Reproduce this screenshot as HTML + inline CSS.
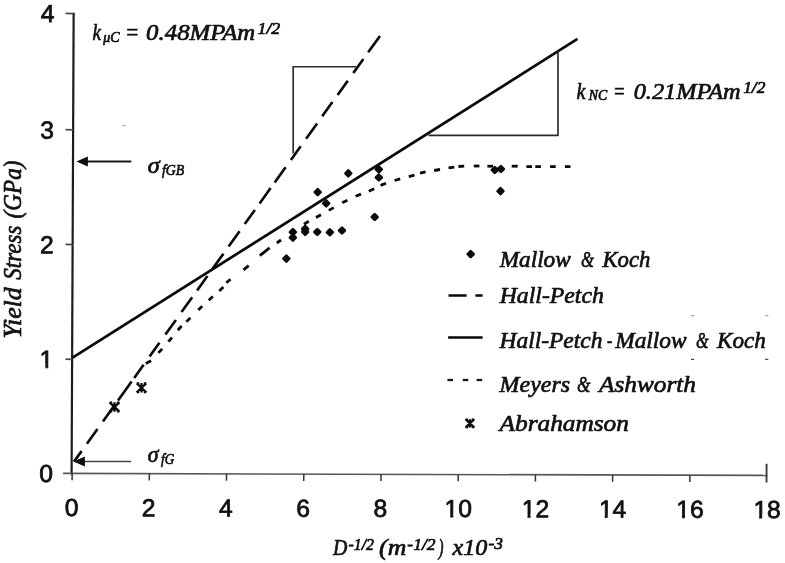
<!DOCTYPE html>
<html lang="en"><head><meta charset="utf-8"><title>Yield stress vs grain size</title>
<style>
html,body{margin:0;padding:0;background:#fff;}
body{width:785px;height:563px;overflow:hidden;}
svg{display:block;}
.sans{font-family:"Liberation Sans",Arial,sans-serif;font-size:24.6px;fill:#111;stroke:#111;stroke-width:.8px;stroke-linejoin:round;}
.ser{font-family:"Liberation Serif","Times New Roman",serif;font-style:italic;fill:#111;stroke:#111;stroke-width:.7px;stroke-linejoin:round;}
</style></head><body>
<svg width="785" height="563" viewBox="0 0 785 563">
<rect width="785" height="563" fill="#fff"/>

<g fill="none">
<line x1="73.65" y1="12.8" x2="71.6" y2="474.6" stroke="#1c1c1c" stroke-width="2.2"/>
<line x1="63" y1="473.40" x2="767.2" y2="475.41" stroke="#585858" stroke-width="1.6"/>
<line x1="65.5" y1="13.35" x2="73.65" y2="13.55" stroke-width="1.7" stroke="#4a4a4a"/>
<line x1="65.5" y1="129.65" x2="73.14" y2="129.85" stroke-width="1.7" stroke="#4a4a4a"/>
<line x1="65.5" y1="244.45" x2="72.64" y2="244.65" stroke-width="1.7" stroke="#4a4a4a"/>
<line x1="65.5" y1="359.15" x2="72.15" y2="359.35" stroke-width="1.7" stroke="#4a4a4a"/>
<line x1="72.1" y1="473.43" x2="72.1" y2="480.23" stroke-width="1.5" stroke="#333"/>
<line x1="149.3" y1="473.65" x2="149.3" y2="480.45" stroke-width="1.5" stroke="#333"/>
<line x1="226.5" y1="473.87" x2="226.5" y2="480.67" stroke-width="1.5" stroke="#333"/>
<line x1="303.8" y1="474.09" x2="303.7" y2="480.89" stroke-width="1.5" stroke="#333"/>
<line x1="381.0" y1="474.31" x2="381.0" y2="481.11" stroke-width="1.5" stroke="#333"/>
<line x1="458.2" y1="474.53" x2="458.2" y2="481.33" stroke-width="1.5" stroke="#333"/>
<line x1="535.4" y1="474.75" x2="535.4" y2="481.55" stroke-width="1.5" stroke="#333"/>
<line x1="612.6" y1="474.97" x2="612.6" y2="481.77" stroke-width="1.5" stroke="#333"/>
<line x1="689.9" y1="475.19" x2="689.8" y2="481.99" stroke-width="1.5" stroke="#333"/>
<line x1="766.6" y1="463.8" x2="766.5" y2="482.4" stroke-width="1.9" stroke="#3a3a3a"/>
</g>
<g class="sans" text-anchor="middle">
<text x="47.60" y="22.1" transform="rotate(0.2 47.60 22.1)">4</text>
<text x="47.19" y="138.5" transform="rotate(0.2 47.19 138.5)">3</text>
<text x="46.79" y="253.2" transform="rotate(0.2 46.79 253.2)">2</text>
<text x="46.39" y="367.9" transform="rotate(0.2 46.39 367.9)">1</text>
<text x="45.99" y="482.0" transform="rotate(0.2 45.99 482.0)">0</text>
<text x="71.5" y="516.00" transform="rotate(0.2 71.5 516.00)">0</text>
<text x="148.7" y="516.22" transform="rotate(0.2 148.7 516.22)">2</text>
<text x="225.9" y="516.45" transform="rotate(0.2 225.9 516.45)">4</text>
<text x="303.2" y="516.67" transform="rotate(0.2 303.2 516.67)">6</text>
<text x="380.4" y="516.89" transform="rotate(0.2 380.4 516.89)">8</text>
<text x="458.2" y="517.11" transform="rotate(0.2 458.2 517.11)">10</text>
<text x="535.4" y="517.33" transform="rotate(0.2 535.4 517.33)">12</text>
<text x="612.6" y="517.56" transform="rotate(0.2 612.6 517.56)">14</text>
<text x="689.9" y="517.78" transform="rotate(0.2 689.9 517.78)">16</text>
<text x="767.1" y="518.00" transform="rotate(0.2 767.1 518.00)">18</text>
</g>
<rect x="39.92" y="364.60" width="5.35" height="4.84" fill="#fff"/>
<rect x="48.36" y="364.60" width="4.81" height="4.84" fill="#fff"/>
<rect x="444.89" y="513.77" width="5.35" height="4.84" fill="#fff"/>
<rect x="453.34" y="513.77" width="4.81" height="4.84" fill="#fff"/>
<rect x="522.11" y="513.99" width="5.35" height="4.84" fill="#fff"/>
<rect x="530.56" y="513.99" width="4.81" height="4.84" fill="#fff"/>
<rect x="599.33" y="514.21" width="5.35" height="4.84" fill="#fff"/>
<rect x="607.78" y="514.21" width="4.81" height="4.84" fill="#fff"/>
<rect x="676.55" y="514.43" width="5.35" height="4.84" fill="#fff"/>
<rect x="685.00" y="514.43" width="4.81" height="4.84" fill="#fff"/>
<rect x="753.77" y="514.66" width="5.35" height="4.84" fill="#fff"/>
<rect x="762.22" y="514.66" width="4.81" height="4.84" fill="#fff"/>
<line x1="72.6" y1="357.6" x2="577.5" y2="38.9" stroke="#0a0a0a" stroke-width="2.75" stroke-linecap="butt"/>
<path d="M74.0,461.6 L81.6,451.1 M86.9,443.7 L97.5,429.0 M102.9,421.4 L114.4,405.4 M118.0,400.4 L131.6,381.5 M134.2,377.9 L143.6,364.8 M149.6,356.5 L159.4,342.8 M165.4,334.5 L175.9,319.9 M181.5,312.1 L192.2,297.2 M197.1,290.4 L207.4,276.0 M212.4,269.1 L223.4,253.8 M228.6,246.5 L239.6,231.2 M244.7,224.1 L254.9,209.9 M259.6,203.4 L270.6,188.1 M274.7,182.4 L285.6,167.2 M290.9,159.9 L300.7,146.2 M306.1,138.7 L317.1,123.4 M322.2,116.3 L332.4,102.1 M337.6,94.9 L347.8,80.7 M353.3,73.0 L363.4,59.0 M368.2,52.3 L380.0,35.9" fill="none" stroke="#0a0a0a" stroke-width="2.65"/>
<g stroke="#0a0a0a" stroke-width="2.8" fill="none">
<path d="M145.7,363.6 L151.1,360.8"/>
<path d="M158.4,352.9 L162.2,348.9"/>
<path d="M168.4,341.7 L172.0,337.5"/>
<path d="M177.8,330.2 L181.6,326.0"/>
<path d="M186.4,321.8 L190.4,317.8"/>
<path d="M198.2,310.1 L202.2,306.3"/>
<path d="M208.7,300.3 L212.9,296.5"/>
<path d="M219.3,290.9 L223.3,286.9"/>
<path d="M226.3,282.8 L230.5,279.2"/>
<path d="M243.5,269.9 L248.7,265.7"/>
<path d="M259.8,255.7 L269.6,247.9"/>
<path d="M276.8,243.0 L281.0,240.0"/>
<path d="M291.6,232.8 L295.4,230.2"/>
<path d="M304.0,224.3 L308.8,221.3"/>
<path d="M316.0,217.5 L321.0,214.7"/>
<path d="M328.8,210.4 L333.8,207.6"/>
<path d="M342.2,202.8 L347.4,200.2"/>
<path d="M355.6,196.3 L361.0,194.1"/>
<path d="M368.8,191.2 L374.2,188.8"/>
<path d="M380.6,185.4 L386.0,183.2"/>
<path d="M394.6,180.5 L400.2,178.9"/>
<path d="M408.8,176.7 L414.4,175.1"/>
<path d="M420.0,173.2 L425.6,171.8"/>
<path d="M434.2,170.5 L440.0,169.5"/>
<path d="M448.5,167.9 L454.3,167.1"/>
<path d="M458.4,166.5 L464.2,166.1"/>
<path d="M473.8,166.0 L479.4,166.0"/>
<path d="M487.4,166.2 L493.0,166.2"/>
<path d="M511.7,166.2 L517.7,166.2"/>
<path d="M526.4,166.6 L532.0,166.6"/>
<path d="M535.3,166.6 L540.9,166.6"/>
<path d="M550.1,166.6 L555.7,166.6"/>
<path d="M564.9,166.6 L570.5,166.6"/>
</g>
<path d="M357,66.7 H293.2 V153.2" fill="none" stroke="#2a2a2a" stroke-width="1.65"/>
<path d="M428.4,135.4 H558 V50.6" fill="none" stroke="#2a2a2a" stroke-width="1.65"/>
<g fill="#0a0a0a" stroke="#0a0a0a" stroke-width="2.6" stroke-linejoin="round">
<path d="M283.4,258.6 L286.4,255.7 L289.3,258.6 L286.4,261.6Z"/>
<path d="M289.9,232.1 L292.9,229.2 L295.8,232.1 L292.9,235.0Z"/>
<path d="M289.9,237.6 L292.9,234.7 L295.8,237.6 L292.9,240.5Z"/>
<path d="M302.2,228.8 L305.2,225.9 L308.1,228.8 L305.2,231.8Z"/>
<path d="M302.2,231.8 L305.2,228.9 L308.1,231.8 L305.2,234.8Z"/>
<path d="M314.4,232 L317.3,229.1 L320.2,232 L317.3,234.9Z"/>
<path d="M326.9,232.3 L329.8,229.4 L332.8,232.3 L329.8,235.2Z"/>
<path d="M339.1,230.5 L342,227.6 L344.9,230.5 L342,233.4Z"/>
<path d="M314.8,192.1 L317.7,189.2 L320.6,192.1 L317.7,195.0Z"/>
<path d="M323.2,203.4 L326.2,200.5 L329.1,203.4 L326.2,206.3Z"/>
<path d="M345.4,173.4 L348.3,170.5 L351.2,173.4 L348.3,176.3Z"/>
<path d="M375.9,169.4 L378.8,166.5 L381.8,169.4 L378.8,172.3Z"/>
<path d="M375.9,177.5 L378.8,174.6 L381.8,177.5 L378.8,180.4Z"/>
<path d="M371.8,217 L374.7,214.1 L377.6,217 L374.7,219.9Z"/>
<path d="M491.9,170 L494.8,167.1 L497.8,170 L494.8,172.9Z"/>
<path d="M497.9,169 L500.9,166.1 L503.8,169 L500.9,171.9Z"/>
<path d="M497.6,191.1 L500.5,188.2 L503.4,191.1 L500.5,194.0Z"/>
<path d="M467.7,254.2 L470.6,251.2 L473.6,254.2 L470.6,257.1Z"/>
</g>
<path d="M109.6,402.3 L119.4,411.7 M109.6,411.7 L119.4,402.3 M114.5,402.3 V411.7 M109.6,402.7 h2.6 M119.4,402.7 h-2.6 M109.6,411.3 h2.6 M119.4,411.3 h-2.6" stroke="#0a0a0a" stroke-width="2.3" fill="none"/>
<path d="M136.6,383.1 L146.4,392.5 M136.6,392.5 L146.4,383.1 M141.5,383.1 V392.5 M136.6,383.5 h2.6 M146.4,383.5 h-2.6 M136.6,392.1 h2.6 M146.4,392.1 h-2.6" stroke="#0a0a0a" stroke-width="2.3" fill="none"/>
<path d="M465.5,419.2 L474.3,427.6 M465.5,427.6 L474.3,419.2 M469.9,419.2 V427.6 M465.5,419.6 h2.6 M474.3,419.6 h-2.6 M465.5,427.2 h2.6 M474.3,427.2 h-2.6" stroke="#0a0a0a" stroke-width="2.3" fill="none"/>
<line x1="84.4" y1="161.6" x2="131.3" y2="161.6" stroke="#1a1a1a" stroke-width="2.0"/><path d="M76.4,161.6 L87.9,156.6 L87.9,166.6Z" fill="#0c0c0c"/>
<line x1="81.4" y1="461.5" x2="131.2" y2="461.5" stroke="#444" stroke-width="1.7"/><path d="M73.4,461.5 L84.9,456.5 L84.9,466.5Z" fill="#0c0c0c"/>
<line x1="448.5" y1="295.5" x2="466.6" y2="295.5" stroke="#0a0a0a" stroke-width="2.5"/>
<line x1="475.4" y1="295.5" x2="482.6" y2="295.5" stroke="#0a0a0a" stroke-width="2.5"/>
<line x1="448.1" y1="337.5" x2="482.6" y2="337.5" stroke="#0a0a0a" stroke-width="2.5"/>
<line x1="447.4" y1="380" x2="453.0" y2="380" stroke="#1a1a1a" stroke-width="2.3"/>
<line x1="462.7" y1="380" x2="468.3" y2="380" stroke="#1a1a1a" stroke-width="2.3"/>
<line x1="476.59999999999997" y1="380" x2="482.2" y2="380" stroke="#1a1a1a" stroke-width="2.3"/>
<line x1="691.0" y1="315.6" x2="694.2" y2="315.6" stroke="#9a9a9a" stroke-width="1.2"/>
<line x1="765.1" y1="315.6" x2="768.3000000000001" y2="315.6" stroke="#a5a5a5" stroke-width="1.2"/>
<line x1="691.0" y1="359.4" x2="694.2" y2="359.4" stroke="#4a4a4a" stroke-width="1.2"/>
<line x1="765.1" y1="359.4" x2="768.3000000000001" y2="359.4" stroke="#4a4a4a" stroke-width="1.2"/>
<line x1="122.60000000000001" y1="125.6" x2="125.8" y2="125.6" stroke="#aaa" stroke-width="1.2"/>
<text class="ser"><tspan x="499.7" y="267" font-size="23.4" textLength="71.03" lengthAdjust="spacingAndGlyphs">Mallow</tspan> <tspan x="581.0" y="267" font-size="23.4" textLength="13.0" lengthAdjust="spacingAndGlyphs">&amp;</tspan> <tspan x="602.5" y="267" font-size="23.4" textLength="47.81" lengthAdjust="spacingAndGlyphs">Koch</tspan></text>
<text class="ser"><tspan x="499.7" y="303" font-size="23.4" textLength="104.2" lengthAdjust="spacingAndGlyphs">Hall-Petch</tspan></text>
<text class="ser"><tspan x="499.6" y="347.7" font-size="23.4" textLength="102.8" lengthAdjust="spacingAndGlyphs">Hall-Petch</tspan><tspan x="607.0" y="347.7" font-size="23.4" textLength="5.26" lengthAdjust="spacingAndGlyphs">-</tspan><tspan x="615.2" y="347.7" font-size="23.4" textLength="71.44" lengthAdjust="spacingAndGlyphs">Mallow</tspan> <tspan x="695.9" y="347.7" font-size="23.4" textLength="12.65" lengthAdjust="spacingAndGlyphs">&amp;</tspan> <tspan x="717.0" y="347.7" font-size="23.4" textLength="48.81" lengthAdjust="spacingAndGlyphs">Koch</tspan></text>
<text class="ser"><tspan x="499.6" y="391.8" font-size="23.4" textLength="70.41" lengthAdjust="spacingAndGlyphs">Meyers</tspan> <tspan x="577.0" y="391.8" font-size="23.4" textLength="13.44" lengthAdjust="spacingAndGlyphs">&amp;</tspan> <tspan x="599.0" y="391.8" font-size="23.4" textLength="97.03" lengthAdjust="spacingAndGlyphs">Ashworth</tspan></text>
<text class="ser"><tspan x="499.5" y="431.2" font-size="23.4" textLength="129.42" lengthAdjust="spacingAndGlyphs">Abrahamson</tspan></text>
<text class="ser"><tspan x="92.4" y="39.9" font-size="22.6" textLength="8.49" lengthAdjust="spacingAndGlyphs">k</tspan><tspan x="103.2" y="42.3" font-size="14" textLength="16.4" lengthAdjust="spacingAndGlyphs">μC</tspan> <tspan x="125.0" y="39.9" font-size="22.6" textLength="14.26" lengthAdjust="spacingAndGlyphs">=</tspan> <tspan x="146.1" y="39.9" font-size="22.6" textLength="109.21" lengthAdjust="spacingAndGlyphs">0.48MPAm</tspan><tspan x="257.6" y="34.3" font-size="16" textLength="22.62" lengthAdjust="spacingAndGlyphs">1/2</tspan></text>
<text class="ser"><tspan x="576.6" y="98.75" font-size="22.6" textLength="8.95" lengthAdjust="spacingAndGlyphs">k</tspan><tspan x="588.8" y="100.4" font-size="14" textLength="18.38" lengthAdjust="spacingAndGlyphs">NC</tspan> <tspan x="613.0" y="98.75" font-size="22.6" textLength="12.49" lengthAdjust="spacingAndGlyphs">=</tspan> <tspan x="633.7" y="98.75" font-size="22.6" textLength="107.0" lengthAdjust="spacingAndGlyphs">0.21MPAm</tspan><tspan x="743.2" y="92.7" font-size="16" textLength="22.21" lengthAdjust="spacingAndGlyphs">1/2</tspan></text>
<text class="ser"><tspan x="147.8" y="172.5" font-size="22.5" textLength="11.98" lengthAdjust="spacingAndGlyphs">σ</tspan><tspan x="162.0" y="175" font-size="15" textLength="22.21" lengthAdjust="spacingAndGlyphs">fGB</tspan></text>
<text class="ser"><tspan x="147.8" y="462" font-size="22.5" textLength="10.83" lengthAdjust="spacingAndGlyphs">σ</tspan><tspan x="161.0" y="464.3" font-size="15" textLength="13.22" lengthAdjust="spacingAndGlyphs">fG</tspan></text>
<text class="ser"><tspan x="333.0" y="554.8" font-size="22.6" textLength="14.33" lengthAdjust="spacingAndGlyphs">D</tspan><tspan x="348.6" y="549.7" font-size="16.5" textLength="25.42" lengthAdjust="spacingAndGlyphs">-1/2</tspan> <tspan x="379.1" y="554.8" font-size="22.6" textLength="27.22" lengthAdjust="spacingAndGlyphs">(m</tspan><tspan x="407.3" y="549.7" font-size="16.5" textLength="28.21" lengthAdjust="spacingAndGlyphs">-1/2</tspan><tspan x="438.5" y="554.8" font-size="22.6" textLength="4.99" lengthAdjust="spacingAndGlyphs">)</tspan> <tspan x="452.5" y="554.8" font-size="22.6" textLength="34.84" lengthAdjust="spacingAndGlyphs">x10</tspan><tspan x="488.4" y="549.2" font-size="16" textLength="14.4" lengthAdjust="spacingAndGlyphs">-3</tspan></text>
<text class="ser" transform="rotate(-90)"><tspan x="-338.5" y="21.0" font-size="24.3" textLength="51.21" lengthAdjust="spacingAndGlyphs">Yield</tspan> <tspan x="-279.7" y="21.0" font-size="24.3" textLength="54.21" lengthAdjust="spacingAndGlyphs">Stress</tspan> <tspan x="-218.4" y="21.0" font-size="24.3" textLength="57.81" lengthAdjust="spacingAndGlyphs">(GPa)</tspan></text>
</svg>
</body></html>
